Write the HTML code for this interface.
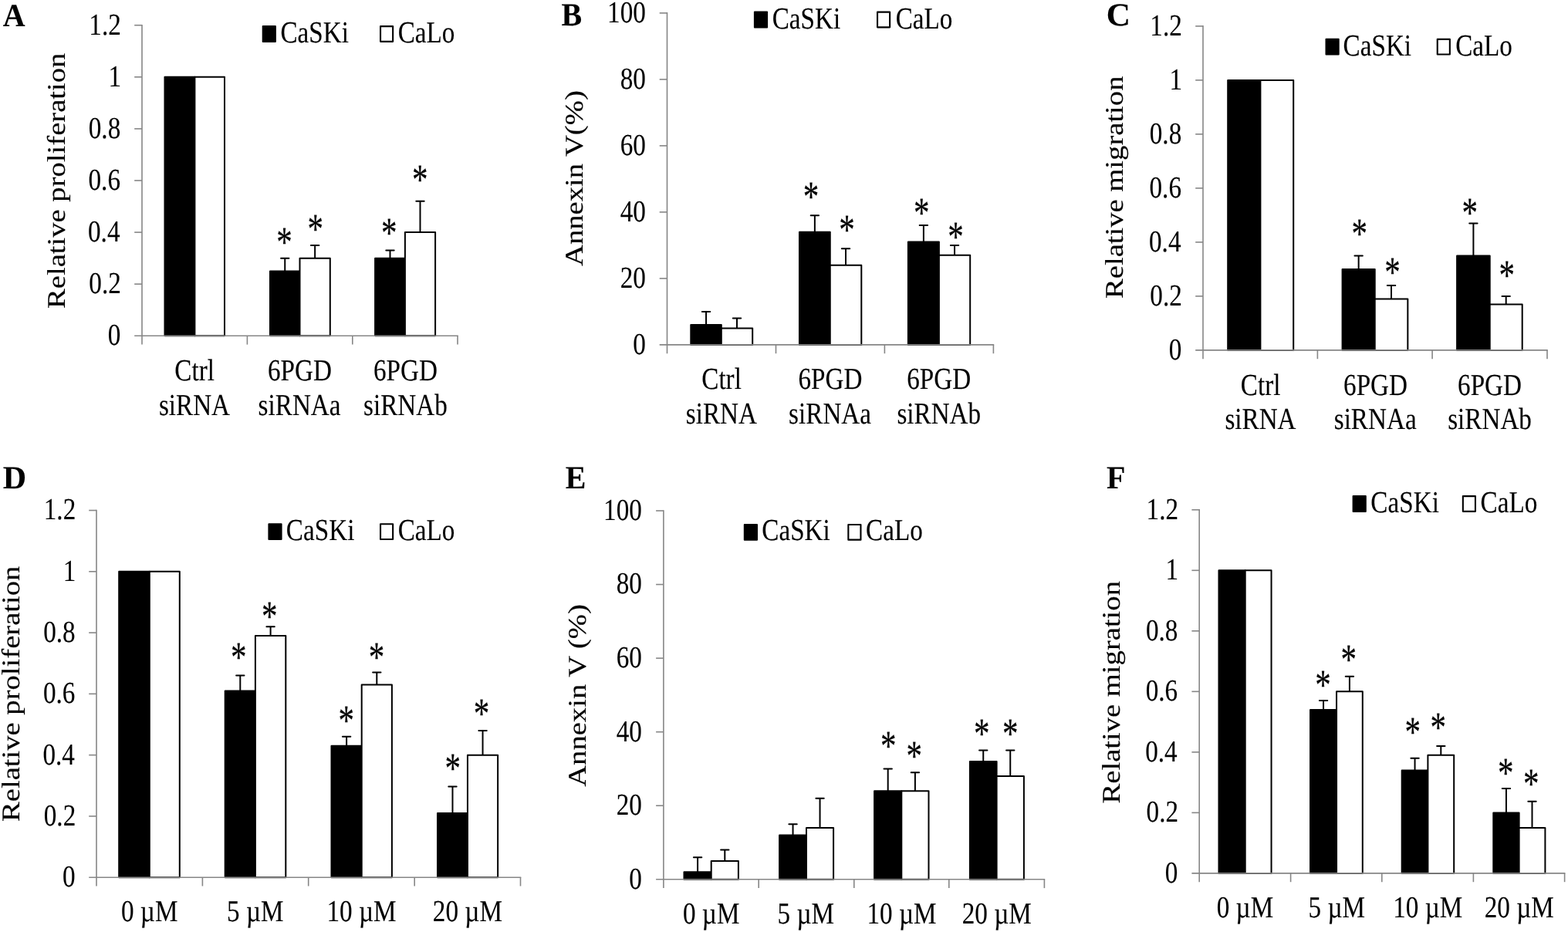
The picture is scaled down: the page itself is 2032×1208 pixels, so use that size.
<!DOCTYPE html>
<html lang="en"><head><meta charset="utf-8"><title>Figure</title>
<style>
html,body{margin:0;padding:0;background:#fff;}
body{width:2032px;height:1208px;overflow:hidden;font-family:"Liberation Serif","DejaVu Serif",serif;}
svg{display:block;}
text{white-space:pre;}
</style></head><body>
<svg width="2032" height="1208" viewBox="0 0 2032 1208" text-rendering="geometricPrecision">
<rect width="2032" height="1208" fill="#fff"/>
<rect x="213.5" y="99.8" width="38.9" height="335.5" fill="#000" stroke="#000" stroke-width="2" stroke-linejoin="round"/>
<rect x="252.4" y="99.8" width="38.6" height="335.5" fill="#fff" stroke="#000" stroke-width="2" stroke-linejoin="round"/>
<line x1="369.25" y1="334.65" x2="369.25" y2="352.43" stroke="#000" stroke-width="2" stroke-linecap="butt"/>
<line x1="364.05" y1="334.65" x2="374.45" y2="334.65" stroke="#000" stroke-width="2" stroke-linecap="round"/>
<line x1="408.15" y1="317.88" x2="408.15" y2="335.65" stroke="#000" stroke-width="2" stroke-linecap="butt"/>
<line x1="402.95" y1="317.88" x2="413.35" y2="317.88" stroke="#000" stroke-width="2" stroke-linecap="round"/>
<rect x="350" y="351.43" width="38.5" height="83.88" fill="#000" stroke="#000" stroke-width="2" stroke-linejoin="round"/>
<rect x="388.5" y="334.65" width="39.3" height="100.65" fill="#fff" stroke="#000" stroke-width="2" stroke-linejoin="round"/>
<line x1="505.5" y1="324.59" x2="505.5" y2="335.65" stroke="#000" stroke-width="2" stroke-linecap="butt"/>
<line x1="500.3" y1="324.59" x2="510.7" y2="324.59" stroke="#000" stroke-width="2" stroke-linecap="round"/>
<line x1="544.5" y1="260.84" x2="544.5" y2="302.1" stroke="#000" stroke-width="2" stroke-linecap="butt"/>
<line x1="539.3" y1="260.84" x2="549.7" y2="260.84" stroke="#000" stroke-width="2" stroke-linecap="round"/>
<rect x="486.1" y="334.65" width="38.8" height="100.65" fill="#000" stroke="#000" stroke-width="2" stroke-linejoin="round"/>
<rect x="524.9" y="301.1" width="39.2" height="134.2" fill="#fff" stroke="#000" stroke-width="2" stroke-linejoin="round"/>
<line x1="184" y1="31.9" x2="184" y2="446.6" stroke="#868686" stroke-width="1.6" stroke-linecap="butt"/>
<line x1="174.2" y1="435.3" x2="593.8" y2="435.3" stroke="#868686" stroke-width="1.6" stroke-linecap="butt"/>
<text transform="matrix(0.84,0,0,1,139.65,447.2)" font-family='"Liberation Serif","DejaVu Serif",serif' font-size="39.5" fill="#000" stroke="#000" stroke-width="0.12">0</text>
<line x1="174.2" y1="368.2" x2="184" y2="368.2" stroke="#868686" stroke-width="1.6" stroke-linecap="butt"/>
<text transform="matrix(0.84,0,0,1,115.35,380.1)" font-family='"Liberation Serif","DejaVu Serif",serif' font-size="39.5" fill="#000" stroke="#000" stroke-width="0.12">0.2</text>
<line x1="174.2" y1="301.1" x2="184" y2="301.1" stroke="#868686" stroke-width="1.6" stroke-linecap="butt"/>
<text transform="matrix(0.84,0,0,1,114.02,313)" font-family='"Liberation Serif","DejaVu Serif",serif' font-size="39.5" fill="#000" stroke="#000" stroke-width="0.12">0.4</text>
<line x1="174.2" y1="234" x2="184" y2="234" stroke="#868686" stroke-width="1.6" stroke-linecap="butt"/>
<text transform="matrix(0.84,0,0,1,114.52,245.9)" font-family='"Liberation Serif","DejaVu Serif",serif' font-size="39.5" fill="#000" stroke="#000" stroke-width="0.12">0.6</text>
<line x1="174.2" y1="166.9" x2="184" y2="166.9" stroke="#868686" stroke-width="1.6" stroke-linecap="butt"/>
<text transform="matrix(0.84,0,0,1,114.77,178.8)" font-family='"Liberation Serif","DejaVu Serif",serif' font-size="39.5" fill="#000" stroke="#000" stroke-width="0.12">0.8</text>
<line x1="174.2" y1="99.8" x2="184" y2="99.8" stroke="#868686" stroke-width="1.6" stroke-linecap="butt"/>
<text transform="matrix(0.84,0,0,1,140.4,111.7)" font-family='"Liberation Serif","DejaVu Serif",serif' font-size="39.5" fill="#000" stroke="#000" stroke-width="0.12">1</text>
<line x1="174.2" y1="32.7" x2="184" y2="32.7" stroke="#868686" stroke-width="1.6" stroke-linecap="butt"/>
<text transform="matrix(0.84,0,0,1,115.35,44.6)" font-family='"Liberation Serif","DejaVu Serif",serif' font-size="39.5" fill="#000" stroke="#000" stroke-width="0.12">1.2</text>
<line x1="320.4" y1="435.3" x2="320.4" y2="446.6" stroke="#868686" stroke-width="1.6" stroke-linecap="butt"/>
<line x1="456.8" y1="435.3" x2="456.8" y2="446.6" stroke="#868686" stroke-width="1.6" stroke-linecap="butt"/>
<line x1="593" y1="435.3" x2="593" y2="446.6" stroke="#868686" stroke-width="1.6" stroke-linecap="butt"/>
<text transform="matrix(0.84,0,0,1,226.37,493.3)" font-family='"Liberation Serif","DejaVu Serif",serif' font-size="39.5" fill="#000" stroke="#000" stroke-width="0.12">Ctrl</text>
<text transform="matrix(0.84,0,0,1,205.88,538.3)" font-family='"Liberation Serif","DejaVu Serif",serif' font-size="39.5" fill="#000" stroke="#000" stroke-width="0.12">siRNA</text>
<text transform="matrix(0.84,0,0,1,346.98,493.3)" font-family='"Liberation Serif","DejaVu Serif",serif' font-size="39.5" fill="#000" stroke="#000" stroke-width="0.12">6PGD</text>
<text transform="matrix(0.84,0,0,1,334.62,538.3)" font-family='"Liberation Serif","DejaVu Serif",serif' font-size="39.5" fill="#000" stroke="#000" stroke-width="0.12">siRNAa</text>
<text transform="matrix(0.84,0,0,1,483.98,493.3)" font-family='"Liberation Serif","DejaVu Serif",serif' font-size="39.5" fill="#000" stroke="#000" stroke-width="0.12">6PGD</text>
<text transform="matrix(0.84,0,0,1,471.08,538.3)" font-family='"Liberation Serif","DejaVu Serif",serif' font-size="39.5" fill="#000" stroke="#000" stroke-width="0.12">siRNAb</text>
<rect x="340.7" y="34.1" width="16.2" height="19.8" fill="#000" stroke="#000" stroke-width="2" stroke-linejoin="round"/>
<text transform="matrix(0.84,0,0,1,363.47,55.2)" font-family='"Liberation Serif","DejaVu Serif",serif' font-size="39.5" fill="#000" stroke="#000" stroke-width="0.12">CaSKi</text>
<rect x="493.05" y="34.15" width="16.1" height="19.7" fill="#fff" stroke="#000" stroke-width="2.1" stroke-linejoin="round"/>
<text transform="matrix(0.84,0,0,1,515.67,55.2)" font-family='"Liberation Serif","DejaVu Serif",serif' font-size="39.5" fill="#000" stroke="#000" stroke-width="0.12">CaLo</text>
<text transform="matrix(0.4099,0,0,0.5524,358.2,331.83)" font-family='"Liberation Serif","DejaVu Serif",serif' font-size="100" stroke="#000" stroke-width="0.45">*</text>
<text transform="matrix(0.4099,0,0,0.5524,398.5,314.63)" font-family='"Liberation Serif","DejaVu Serif",serif' font-size="100" stroke="#000" stroke-width="0.45">*</text>
<text transform="matrix(0.4099,0,0,0.5524,494,320.03)" font-family='"Liberation Serif","DejaVu Serif",serif' font-size="100" stroke="#000" stroke-width="0.45">*</text>
<text transform="matrix(0.4099,0,0,0.5524,534,251.23)" font-family='"Liberation Serif","DejaVu Serif",serif' font-size="100" stroke="#000" stroke-width="0.45">*</text>
<text transform="matrix(0,-1.17,1,0,83.7,399.95)" font-family='"Liberation Serif","DejaVu Serif",serif' font-size="33" fill="#000" stroke="#000" stroke-width="0.15">Relative proliferation</text>
<text transform="matrix(0.95,0,0,1,3.8,34)" font-family='"Liberation Serif","DejaVu Serif",serif' font-size="42" font-weight="bold" fill="#000" stroke="#000" stroke-width="0.12">A</text>
<line x1="915.05" y1="403.9" x2="915.05" y2="422.1" stroke="#000" stroke-width="2" stroke-linecap="butt"/>
<line x1="909.85" y1="403.9" x2="920.25" y2="403.9" stroke="#000" stroke-width="2" stroke-linecap="round"/>
<line x1="955" y1="412.5" x2="955" y2="426.4" stroke="#000" stroke-width="2" stroke-linecap="butt"/>
<line x1="949.8" y1="412.5" x2="960.2" y2="412.5" stroke="#000" stroke-width="2" stroke-linecap="round"/>
<rect x="895.3" y="421.1" width="39.5" height="25.8" fill="#000" stroke="#000" stroke-width="2" stroke-linejoin="round"/>
<rect x="934.8" y="425.4" width="40.4" height="21.5" fill="#fff" stroke="#000" stroke-width="2" stroke-linejoin="round"/>
<line x1="1055.88" y1="279.2" x2="1055.88" y2="301.7" stroke="#000" stroke-width="2" stroke-linecap="butt"/>
<line x1="1050.67" y1="279.2" x2="1061.08" y2="279.2" stroke="#000" stroke-width="2" stroke-linecap="round"/>
<line x1="1096.03" y1="322.2" x2="1096.03" y2="344.7" stroke="#000" stroke-width="2" stroke-linecap="butt"/>
<line x1="1090.83" y1="322.2" x2="1101.23" y2="322.2" stroke="#000" stroke-width="2" stroke-linecap="round"/>
<rect x="1036" y="300.7" width="39.75" height="146.2" fill="#000" stroke="#000" stroke-width="2" stroke-linejoin="round"/>
<rect x="1075.75" y="343.7" width="40.55" height="103.2" fill="#fff" stroke="#000" stroke-width="2" stroke-linejoin="round"/>
<line x1="1196.9" y1="292.1" x2="1196.9" y2="314.6" stroke="#000" stroke-width="2" stroke-linecap="butt"/>
<line x1="1191.7" y1="292.1" x2="1202.1" y2="292.1" stroke="#000" stroke-width="2" stroke-linecap="round"/>
<line x1="1237.05" y1="317.9" x2="1237.05" y2="331.8" stroke="#000" stroke-width="2" stroke-linecap="butt"/>
<line x1="1231.85" y1="317.9" x2="1242.25" y2="317.9" stroke="#000" stroke-width="2" stroke-linecap="round"/>
<rect x="1176.9" y="313.6" width="40" height="133.3" fill="#000" stroke="#000" stroke-width="2" stroke-linejoin="round"/>
<rect x="1216.9" y="330.8" width="40.3" height="116.1" fill="#fff" stroke="#000" stroke-width="2" stroke-linejoin="round"/>
<line x1="864.5" y1="16.1" x2="864.5" y2="458.2" stroke="#868686" stroke-width="1.6" stroke-linecap="butt"/>
<line x1="854.7" y1="446.9" x2="1288.2" y2="446.9" stroke="#868686" stroke-width="1.6" stroke-linecap="butt"/>
<text transform="matrix(0.84,0,0,1,820.25,458.8)" font-family='"Liberation Serif","DejaVu Serif",serif' font-size="39.5" fill="#000" stroke="#000" stroke-width="0.12">0</text>
<line x1="854.7" y1="360.9" x2="864.5" y2="360.9" stroke="#868686" stroke-width="1.6" stroke-linecap="butt"/>
<text transform="matrix(0.84,0,0,1,803.66,372.8)" font-family='"Liberation Serif","DejaVu Serif",serif' font-size="39.5" fill="#000" stroke="#000" stroke-width="0.12">20</text>
<line x1="854.7" y1="274.9" x2="864.5" y2="274.9" stroke="#868686" stroke-width="1.6" stroke-linecap="butt"/>
<text transform="matrix(0.84,0,0,1,803.66,286.8)" font-family='"Liberation Serif","DejaVu Serif",serif' font-size="39.5" fill="#000" stroke="#000" stroke-width="0.12">40</text>
<line x1="854.7" y1="188.9" x2="864.5" y2="188.9" stroke="#868686" stroke-width="1.6" stroke-linecap="butt"/>
<text transform="matrix(0.84,0,0,1,803.66,200.8)" font-family='"Liberation Serif","DejaVu Serif",serif' font-size="39.5" fill="#000" stroke="#000" stroke-width="0.12">60</text>
<line x1="854.7" y1="102.9" x2="864.5" y2="102.9" stroke="#868686" stroke-width="1.6" stroke-linecap="butt"/>
<text transform="matrix(0.84,0,0,1,803.66,114.8)" font-family='"Liberation Serif","DejaVu Serif",serif' font-size="39.5" fill="#000" stroke="#000" stroke-width="0.12">80</text>
<line x1="854.7" y1="16.9" x2="864.5" y2="16.9" stroke="#868686" stroke-width="1.6" stroke-linecap="butt"/>
<text transform="matrix(0.84,0,0,1,787.07,28.8)" font-family='"Liberation Serif","DejaVu Serif",serif' font-size="39.5" fill="#000" stroke="#000" stroke-width="0.12">100</text>
<line x1="1005.5" y1="446.9" x2="1005.5" y2="458.2" stroke="#868686" stroke-width="1.6" stroke-linecap="butt"/>
<line x1="1146.4" y1="446.9" x2="1146.4" y2="458.2" stroke="#868686" stroke-width="1.6" stroke-linecap="butt"/>
<line x1="1287.4" y1="446.9" x2="1287.4" y2="458.2" stroke="#868686" stroke-width="1.6" stroke-linecap="butt"/>
<text transform="matrix(0.84,0,0,1,909.27,504.4)" font-family='"Liberation Serif","DejaVu Serif",serif' font-size="39.5" fill="#000" stroke="#000" stroke-width="0.12">Ctrl</text>
<text transform="matrix(0.84,0,0,1,888.78,549.4)" font-family='"Liberation Serif","DejaVu Serif",serif' font-size="39.5" fill="#000" stroke="#000" stroke-width="0.12">siRNA</text>
<text transform="matrix(0.84,0,0,1,1034.48,504.4)" font-family='"Liberation Serif","DejaVu Serif",serif' font-size="39.5" fill="#000" stroke="#000" stroke-width="0.12">6PGD</text>
<text transform="matrix(0.84,0,0,1,1022.12,549.4)" font-family='"Liberation Serif","DejaVu Serif",serif' font-size="39.5" fill="#000" stroke="#000" stroke-width="0.12">siRNAa</text>
<text transform="matrix(0.84,0,0,1,1175.28,504.4)" font-family='"Liberation Serif","DejaVu Serif",serif' font-size="39.5" fill="#000" stroke="#000" stroke-width="0.12">6PGD</text>
<text transform="matrix(0.84,0,0,1,1162.38,549.4)" font-family='"Liberation Serif","DejaVu Serif",serif' font-size="39.5" fill="#000" stroke="#000" stroke-width="0.12">siRNAb</text>
<rect x="977.9" y="15.6" width="16.2" height="19.8" fill="#000" stroke="#000" stroke-width="2" stroke-linejoin="round"/>
<text transform="matrix(0.84,0,0,1,1000.67,36.8)" font-family='"Liberation Serif","DejaVu Serif",serif' font-size="39.5" fill="#000" stroke="#000" stroke-width="0.12">CaSKi</text>
<rect x="1137.05" y="15.65" width="16.1" height="19.7" fill="#fff" stroke="#000" stroke-width="2.1" stroke-linejoin="round"/>
<text transform="matrix(0.84,0,0,1,1160.67,36.8)" font-family='"Liberation Serif","DejaVu Serif",serif' font-size="39.5" fill="#000" stroke="#000" stroke-width="0.12">CaLo</text>
<text transform="matrix(0.4099,0,0,0.5524,1040.7,272.83)" font-family='"Liberation Serif","DejaVu Serif",serif' font-size="100" stroke="#000" stroke-width="0.45">*</text>
<text transform="matrix(0.4099,0,0,0.5524,1087.3,315.73)" font-family='"Liberation Serif","DejaVu Serif",serif' font-size="100" stroke="#000" stroke-width="0.45">*</text>
<text transform="matrix(0.4099,0,0,0.5524,1183.95,294.03)" font-family='"Liberation Serif","DejaVu Serif",serif' font-size="100" stroke="#000" stroke-width="0.45">*</text>
<text transform="matrix(0.4099,0,0,0.5524,1228.3,324.53)" font-family='"Liberation Serif","DejaVu Serif",serif' font-size="100" stroke="#000" stroke-width="0.45">*</text>
<text transform="matrix(0,-1.17,1,0,754.5,344.93)" font-family='"Liberation Serif","DejaVu Serif",serif' font-size="33" fill="#000" stroke="#000" stroke-width="0.15">Annexin V(%)</text>
<text transform="matrix(0.95,0,0,1,727.5,33)" font-family='"Liberation Serif","DejaVu Serif",serif' font-size="42" font-weight="bold" fill="#000" stroke="#000" stroke-width="0.12">B</text>
<rect x="1591.2" y="103.9" width="42.2" height="350" fill="#000" stroke="#000" stroke-width="2" stroke-linejoin="round"/>
<rect x="1633.4" y="103.9" width="42.8" height="350" fill="#fff" stroke="#000" stroke-width="2" stroke-linejoin="round"/>
<line x1="1760.65" y1="331.4" x2="1760.65" y2="349.9" stroke="#000" stroke-width="2" stroke-linecap="butt"/>
<line x1="1755.45" y1="331.4" x2="1765.85" y2="331.4" stroke="#000" stroke-width="2" stroke-linecap="round"/>
<line x1="1803.03" y1="369.9" x2="1803.03" y2="388.4" stroke="#000" stroke-width="2" stroke-linecap="butt"/>
<line x1="1797.83" y1="369.9" x2="1808.23" y2="369.9" stroke="#000" stroke-width="2" stroke-linecap="round"/>
<rect x="1739.6" y="348.9" width="42.1" height="105" fill="#000" stroke="#000" stroke-width="2" stroke-linejoin="round"/>
<rect x="1781.7" y="387.4" width="42.65" height="66.5" fill="#fff" stroke="#000" stroke-width="2" stroke-linejoin="round"/>
<line x1="1909.4" y1="289.4" x2="1909.4" y2="332.4" stroke="#000" stroke-width="2" stroke-linecap="butt"/>
<line x1="1904.2" y1="289.4" x2="1914.6" y2="289.4" stroke="#000" stroke-width="2" stroke-linecap="round"/>
<line x1="1951.7" y1="383.9" x2="1951.7" y2="395.4" stroke="#000" stroke-width="2" stroke-linecap="butt"/>
<line x1="1946.5" y1="383.9" x2="1956.9" y2="383.9" stroke="#000" stroke-width="2" stroke-linecap="round"/>
<rect x="1888.1" y="331.4" width="42.6" height="122.5" fill="#000" stroke="#000" stroke-width="2" stroke-linejoin="round"/>
<rect x="1930.7" y="394.4" width="42" height="59.5" fill="#fff" stroke="#000" stroke-width="2" stroke-linejoin="round"/>
<line x1="1559" y1="33.1" x2="1559" y2="465.2" stroke="#868686" stroke-width="1.6" stroke-linecap="butt"/>
<line x1="1549.2" y1="453.9" x2="2005.8" y2="453.9" stroke="#868686" stroke-width="1.6" stroke-linecap="butt"/>
<text transform="matrix(0.84,0,0,1,1514.65,465.8)" font-family='"Liberation Serif","DejaVu Serif",serif' font-size="39.5" fill="#000" stroke="#000" stroke-width="0.12">0</text>
<line x1="1549.2" y1="383.9" x2="1559" y2="383.9" stroke="#868686" stroke-width="1.6" stroke-linecap="butt"/>
<text transform="matrix(0.84,0,0,1,1490.35,395.8)" font-family='"Liberation Serif","DejaVu Serif",serif' font-size="39.5" fill="#000" stroke="#000" stroke-width="0.12">0.2</text>
<line x1="1549.2" y1="313.9" x2="1559" y2="313.9" stroke="#868686" stroke-width="1.6" stroke-linecap="butt"/>
<text transform="matrix(0.84,0,0,1,1489.02,325.8)" font-family='"Liberation Serif","DejaVu Serif",serif' font-size="39.5" fill="#000" stroke="#000" stroke-width="0.12">0.4</text>
<line x1="1549.2" y1="243.9" x2="1559" y2="243.9" stroke="#868686" stroke-width="1.6" stroke-linecap="butt"/>
<text transform="matrix(0.84,0,0,1,1489.52,255.8)" font-family='"Liberation Serif","DejaVu Serif",serif' font-size="39.5" fill="#000" stroke="#000" stroke-width="0.12">0.6</text>
<line x1="1549.2" y1="173.9" x2="1559" y2="173.9" stroke="#868686" stroke-width="1.6" stroke-linecap="butt"/>
<text transform="matrix(0.84,0,0,1,1489.77,185.8)" font-family='"Liberation Serif","DejaVu Serif",serif' font-size="39.5" fill="#000" stroke="#000" stroke-width="0.12">0.8</text>
<line x1="1549.2" y1="103.9" x2="1559" y2="103.9" stroke="#868686" stroke-width="1.6" stroke-linecap="butt"/>
<text transform="matrix(0.84,0,0,1,1515.4,115.8)" font-family='"Liberation Serif","DejaVu Serif",serif' font-size="39.5" fill="#000" stroke="#000" stroke-width="0.12">1</text>
<line x1="1549.2" y1="33.9" x2="1559" y2="33.9" stroke="#868686" stroke-width="1.6" stroke-linecap="butt"/>
<text transform="matrix(0.84,0,0,1,1490.35,45.8)" font-family='"Liberation Serif","DejaVu Serif",serif' font-size="39.5" fill="#000" stroke="#000" stroke-width="0.12">1.2</text>
<line x1="1707.4" y1="453.9" x2="1707.4" y2="465.2" stroke="#868686" stroke-width="1.6" stroke-linecap="butt"/>
<line x1="1856.1" y1="453.9" x2="1856.1" y2="465.2" stroke="#868686" stroke-width="1.6" stroke-linecap="butt"/>
<line x1="2005" y1="453.9" x2="2005" y2="465.2" stroke="#868686" stroke-width="1.6" stroke-linecap="butt"/>
<text transform="matrix(0.84,0,0,1,1607.87,511.5)" font-family='"Liberation Serif","DejaVu Serif",serif' font-size="39.5" fill="#000" stroke="#000" stroke-width="0.12">Ctrl</text>
<text transform="matrix(0.84,0,0,1,1587.38,555.7)" font-family='"Liberation Serif","DejaVu Serif",serif' font-size="39.5" fill="#000" stroke="#000" stroke-width="0.12">siRNA</text>
<text transform="matrix(0.84,0,0,1,1741.08,511.5)" font-family='"Liberation Serif","DejaVu Serif",serif' font-size="39.5" fill="#000" stroke="#000" stroke-width="0.12">6PGD</text>
<text transform="matrix(0.84,0,0,1,1728.72,555.7)" font-family='"Liberation Serif","DejaVu Serif",serif' font-size="39.5" fill="#000" stroke="#000" stroke-width="0.12">siRNAa</text>
<text transform="matrix(0.84,0,0,1,1889.08,511.5)" font-family='"Liberation Serif","DejaVu Serif",serif' font-size="39.5" fill="#000" stroke="#000" stroke-width="0.12">6PGD</text>
<text transform="matrix(0.84,0,0,1,1876.18,555.7)" font-family='"Liberation Serif","DejaVu Serif",serif' font-size="39.5" fill="#000" stroke="#000" stroke-width="0.12">siRNAb</text>
<rect x="1718.5" y="50.8" width="16.2" height="19.8" fill="#000" stroke="#000" stroke-width="2" stroke-linejoin="round"/>
<text transform="matrix(0.84,0,0,1,1740.57,72)" font-family='"Liberation Serif","DejaVu Serif",serif' font-size="39.5" fill="#000" stroke="#000" stroke-width="0.12">CaSKi</text>
<rect x="1862.75" y="50.85" width="16.1" height="19.7" fill="#fff" stroke="#000" stroke-width="2.1" stroke-linejoin="round"/>
<text transform="matrix(0.84,0,0,1,1886.17,72)" font-family='"Liberation Serif","DejaVu Serif",serif' font-size="39.5" fill="#000" stroke="#000" stroke-width="0.12">CaLo</text>
<text transform="matrix(0.4099,0,0,0.5524,1751.6,320.63)" font-family='"Liberation Serif","DejaVu Serif",serif' font-size="100" stroke="#000" stroke-width="0.45">*</text>
<text transform="matrix(0.4099,0,0,0.5524,1794.3,370.88)" font-family='"Liberation Serif","DejaVu Serif",serif' font-size="100" stroke="#000" stroke-width="0.45">*</text>
<text transform="matrix(0.4099,0,0,0.5524,1894.6,293.93)" font-family='"Liberation Serif","DejaVu Serif",serif' font-size="100" stroke="#000" stroke-width="0.45">*</text>
<text transform="matrix(0.4099,0,0,0.5524,1942.6,374.83)" font-family='"Liberation Serif","DejaVu Serif",serif' font-size="100" stroke="#000" stroke-width="0.45">*</text>
<text transform="matrix(0,-1.17,1,0,1455.2,386.98)" font-family='"Liberation Serif","DejaVu Serif",serif' font-size="33" fill="#000" stroke="#000" stroke-width="0.15">Relative migration</text>
<text transform="matrix(1.03,0,0,1,1433.65,33)" font-family='"Liberation Serif","DejaVu Serif",serif' font-size="42" font-weight="bold" fill="#000" stroke="#000" stroke-width="0.12">C</text>
<rect x="154.2" y="740.8" width="39.6" height="396.4" fill="#000" stroke="#000" stroke-width="2" stroke-linejoin="round"/>
<rect x="193.8" y="740.8" width="39" height="396.4" fill="#fff" stroke="#000" stroke-width="2" stroke-linejoin="round"/>
<line x1="311.3" y1="875.58" x2="311.3" y2="896.4" stroke="#000" stroke-width="2" stroke-linecap="butt"/>
<line x1="306.1" y1="875.58" x2="316.5" y2="875.58" stroke="#000" stroke-width="2" stroke-linecap="round"/>
<line x1="350.6" y1="812.15" x2="350.6" y2="825.04" stroke="#000" stroke-width="2" stroke-linecap="butt"/>
<line x1="345.4" y1="812.15" x2="355.8" y2="812.15" stroke="#000" stroke-width="2" stroke-linecap="round"/>
<rect x="291.7" y="895.4" width="39.2" height="241.8" fill="#000" stroke="#000" stroke-width="2" stroke-linejoin="round"/>
<rect x="330.9" y="824.04" width="39.4" height="313.16" fill="#fff" stroke="#000" stroke-width="2" stroke-linejoin="round"/>
<line x1="449.1" y1="954.86" x2="449.1" y2="967.75" stroke="#000" stroke-width="2" stroke-linecap="butt"/>
<line x1="443.9" y1="954.86" x2="454.3" y2="954.86" stroke="#000" stroke-width="2" stroke-linecap="round"/>
<line x1="488.3" y1="871.61" x2="488.3" y2="888.47" stroke="#000" stroke-width="2" stroke-linecap="butt"/>
<line x1="483.1" y1="871.61" x2="493.5" y2="871.61" stroke="#000" stroke-width="2" stroke-linecap="round"/>
<rect x="429.5" y="966.75" width="39.2" height="170.45" fill="#000" stroke="#000" stroke-width="2" stroke-linejoin="round"/>
<rect x="468.7" y="887.47" width="39.2" height="249.73" fill="#fff" stroke="#000" stroke-width="2" stroke-linejoin="round"/>
<line x1="586.48" y1="1019.47" x2="586.48" y2="1054.96" stroke="#000" stroke-width="2" stroke-linecap="butt"/>
<line x1="581.27" y1="1019.47" x2="591.68" y2="1019.47" stroke="#000" stroke-width="2" stroke-linecap="round"/>
<line x1="625.55" y1="946.93" x2="625.55" y2="979.64" stroke="#000" stroke-width="2" stroke-linecap="butt"/>
<line x1="620.35" y1="946.93" x2="630.75" y2="946.93" stroke="#000" stroke-width="2" stroke-linecap="round"/>
<rect x="567" y="1053.96" width="38.95" height="83.24" fill="#000" stroke="#000" stroke-width="2" stroke-linejoin="round"/>
<rect x="605.95" y="978.64" width="39.2" height="158.56" fill="#fff" stroke="#000" stroke-width="2" stroke-linejoin="round"/>
<line x1="125" y1="660.72" x2="125" y2="1148.5" stroke="#868686" stroke-width="1.6" stroke-linecap="butt"/>
<line x1="115.2" y1="1137.2" x2="675.3" y2="1137.2" stroke="#868686" stroke-width="1.6" stroke-linecap="butt"/>
<text transform="matrix(0.84,0,0,1,81.05,1149.1)" font-family='"Liberation Serif","DejaVu Serif",serif' font-size="39.5" fill="#000" stroke="#000" stroke-width="0.12">0</text>
<line x1="115.2" y1="1057.92" x2="125" y2="1057.92" stroke="#868686" stroke-width="1.6" stroke-linecap="butt"/>
<text transform="matrix(0.84,0,0,1,56.75,1069.82)" font-family='"Liberation Serif","DejaVu Serif",serif' font-size="39.5" fill="#000" stroke="#000" stroke-width="0.12">0.2</text>
<line x1="115.2" y1="978.64" x2="125" y2="978.64" stroke="#868686" stroke-width="1.6" stroke-linecap="butt"/>
<text transform="matrix(0.84,0,0,1,55.42,990.54)" font-family='"Liberation Serif","DejaVu Serif",serif' font-size="39.5" fill="#000" stroke="#000" stroke-width="0.12">0.4</text>
<line x1="115.2" y1="899.36" x2="125" y2="899.36" stroke="#868686" stroke-width="1.6" stroke-linecap="butt"/>
<text transform="matrix(0.84,0,0,1,55.92,911.26)" font-family='"Liberation Serif","DejaVu Serif",serif' font-size="39.5" fill="#000" stroke="#000" stroke-width="0.12">0.6</text>
<line x1="115.2" y1="820.08" x2="125" y2="820.08" stroke="#868686" stroke-width="1.6" stroke-linecap="butt"/>
<text transform="matrix(0.84,0,0,1,56.17,831.98)" font-family='"Liberation Serif","DejaVu Serif",serif' font-size="39.5" fill="#000" stroke="#000" stroke-width="0.12">0.8</text>
<line x1="115.2" y1="740.8" x2="125" y2="740.8" stroke="#868686" stroke-width="1.6" stroke-linecap="butt"/>
<text transform="matrix(0.84,0,0,1,81.8,752.7)" font-family='"Liberation Serif","DejaVu Serif",serif' font-size="39.5" fill="#000" stroke="#000" stroke-width="0.12">1</text>
<line x1="115.2" y1="661.52" x2="125" y2="661.52" stroke="#868686" stroke-width="1.6" stroke-linecap="butt"/>
<text transform="matrix(0.84,0,0,1,56.75,673.42)" font-family='"Liberation Serif","DejaVu Serif",serif' font-size="39.5" fill="#000" stroke="#000" stroke-width="0.12">1.2</text>
<line x1="262.4" y1="1137.2" x2="262.4" y2="1148.5" stroke="#868686" stroke-width="1.6" stroke-linecap="butt"/>
<line x1="399.7" y1="1137.2" x2="399.7" y2="1148.5" stroke="#868686" stroke-width="1.6" stroke-linecap="butt"/>
<line x1="537.2" y1="1137.2" x2="537.2" y2="1148.5" stroke="#868686" stroke-width="1.6" stroke-linecap="butt"/>
<line x1="674.5" y1="1137.2" x2="674.5" y2="1148.5" stroke="#868686" stroke-width="1.6" stroke-linecap="butt"/>
<text transform="matrix(0.84,0,0,1,156.93,1194.1)" font-family='"Liberation Serif","DejaVu Serif",serif' font-size="39.5" fill="#000" stroke="#000" stroke-width="0.12">0 µM</text>
<text transform="matrix(0.84,0,0,1,294.1,1194.1)" font-family='"Liberation Serif","DejaVu Serif",serif' font-size="39.5" fill="#000" stroke="#000" stroke-width="0.12">5 µM</text>
<text transform="matrix(0.84,0,0,1,423.4,1194.1)" font-family='"Liberation Serif","DejaVu Serif",serif' font-size="39.5" fill="#000" stroke="#000" stroke-width="0.12">10 µM</text>
<text transform="matrix(0.84,0,0,1,560.85,1194.1)" font-family='"Liberation Serif","DejaVu Serif",serif' font-size="39.5" fill="#000" stroke="#000" stroke-width="0.12">20 µM</text>
<rect x="348.4" y="679.2" width="16.2" height="19.8" fill="#000" stroke="#000" stroke-width="2" stroke-linejoin="round"/>
<text transform="matrix(0.84,0,0,1,370.87,700.4)" font-family='"Liberation Serif","DejaVu Serif",serif' font-size="39.5" fill="#000" stroke="#000" stroke-width="0.12">CaSKi</text>
<rect x="493.05" y="679.25" width="16.1" height="19.7" fill="#fff" stroke="#000" stroke-width="2.1" stroke-linejoin="round"/>
<text transform="matrix(0.84,0,0,1,515.67,700.4)" font-family='"Liberation Serif","DejaVu Serif",serif' font-size="39.5" fill="#000" stroke="#000" stroke-width="0.12">CaLo</text>
<text transform="matrix(0.4099,0,0,0.5524,298.9,869.63)" font-family='"Liberation Serif","DejaVu Serif",serif' font-size="100" stroke="#000" stroke-width="0.45">*</text>
<text transform="matrix(0.4099,0,0,0.5524,339,817.13)" font-family='"Liberation Serif","DejaVu Serif",serif' font-size="100" stroke="#000" stroke-width="0.45">*</text>
<text transform="matrix(0.4099,0,0,0.5524,438.6,952.23)" font-family='"Liberation Serif","DejaVu Serif",serif' font-size="100" stroke="#000" stroke-width="0.45">*</text>
<text transform="matrix(0.4099,0,0,0.5524,477.8,869.83)" font-family='"Liberation Serif","DejaVu Serif",serif' font-size="100" stroke="#000" stroke-width="0.45">*</text>
<text transform="matrix(0.4099,0,0,0.5524,576.4,1013.63)" font-family='"Liberation Serif","DejaVu Serif",serif' font-size="100" stroke="#000" stroke-width="0.45">*</text>
<text transform="matrix(0.4099,0,0,0.5524,613.7,943.23)" font-family='"Liberation Serif","DejaVu Serif",serif' font-size="100" stroke="#000" stroke-width="0.45">*</text>
<text transform="matrix(0,-1.17,1,0,25.1,1064.95)" font-family='"Liberation Serif","DejaVu Serif",serif' font-size="33" fill="#000" stroke="#000" stroke-width="0.15">Relative proliferation</text>
<text transform="matrix(1,0,0,1,3.76,632.8)" font-family='"Liberation Serif","DejaVu Serif",serif' font-size="42" font-weight="bold" fill="#000" stroke="#000" stroke-width="0.12">D</text>
<line x1="904.1" y1="1111.13" x2="904.1" y2="1131.24" stroke="#000" stroke-width="2" stroke-linecap="butt"/>
<line x1="898.9" y1="1111.13" x2="909.3" y2="1111.13" stroke="#000" stroke-width="2" stroke-linecap="round"/>
<line x1="939.3" y1="1101.58" x2="939.3" y2="1116.91" stroke="#000" stroke-width="2" stroke-linecap="butt"/>
<line x1="934.1" y1="1101.58" x2="944.5" y2="1101.58" stroke="#000" stroke-width="2" stroke-linecap="round"/>
<rect x="886.5" y="1130.24" width="35.2" height="9.56" fill="#000" stroke="#000" stroke-width="2" stroke-linejoin="round"/>
<rect x="921.7" y="1115.91" width="35.2" height="23.89" fill="#fff" stroke="#000" stroke-width="2" stroke-linejoin="round"/>
<line x1="1027.55" y1="1068.13" x2="1027.55" y2="1083.46" stroke="#000" stroke-width="2" stroke-linecap="butt"/>
<line x1="1022.35" y1="1068.13" x2="1032.75" y2="1068.13" stroke="#000" stroke-width="2" stroke-linecap="round"/>
<line x1="1062.55" y1="1034.68" x2="1062.55" y2="1073.91" stroke="#000" stroke-width="2" stroke-linecap="butt"/>
<line x1="1057.35" y1="1034.68" x2="1067.75" y2="1034.68" stroke="#000" stroke-width="2" stroke-linecap="round"/>
<rect x="1010.1" y="1082.46" width="34.9" height="57.34" fill="#000" stroke="#000" stroke-width="2" stroke-linejoin="round"/>
<rect x="1045" y="1072.91" width="35.1" height="66.89" fill="#fff" stroke="#000" stroke-width="2" stroke-linejoin="round"/>
<line x1="1150.7" y1="996.46" x2="1150.7" y2="1026.13" stroke="#000" stroke-width="2" stroke-linecap="butt"/>
<line x1="1145.5" y1="996.46" x2="1155.9" y2="996.46" stroke="#000" stroke-width="2" stroke-linecap="round"/>
<line x1="1185.9" y1="1001.24" x2="1185.9" y2="1026.13" stroke="#000" stroke-width="2" stroke-linecap="butt"/>
<line x1="1180.7" y1="1001.24" x2="1191.1" y2="1001.24" stroke="#000" stroke-width="2" stroke-linecap="round"/>
<rect x="1133.1" y="1025.13" width="35.2" height="114.67" fill="#000" stroke="#000" stroke-width="2" stroke-linejoin="round"/>
<rect x="1168.3" y="1025.13" width="35.2" height="114.67" fill="#fff" stroke="#000" stroke-width="2" stroke-linejoin="round"/>
<line x1="1274.25" y1="972.57" x2="1274.25" y2="987.9" stroke="#000" stroke-width="2" stroke-linecap="butt"/>
<line x1="1269.05" y1="972.57" x2="1279.45" y2="972.57" stroke="#000" stroke-width="2" stroke-linecap="round"/>
<line x1="1309.25" y1="972.57" x2="1309.25" y2="1007.02" stroke="#000" stroke-width="2" stroke-linecap="butt"/>
<line x1="1304.05" y1="972.57" x2="1314.45" y2="972.57" stroke="#000" stroke-width="2" stroke-linecap="round"/>
<rect x="1256.9" y="986.9" width="34.7" height="152.9" fill="#000" stroke="#000" stroke-width="2" stroke-linejoin="round"/>
<rect x="1291.6" y="1006.02" width="35.3" height="133.78" fill="#fff" stroke="#000" stroke-width="2" stroke-linejoin="round"/>
<line x1="859.9" y1="661.2" x2="859.9" y2="1151.1" stroke="#868686" stroke-width="1.6" stroke-linecap="butt"/>
<line x1="850.1" y1="1139.8" x2="1354.2" y2="1139.8" stroke="#868686" stroke-width="1.6" stroke-linecap="butt"/>
<text transform="matrix(0.84,0,0,1,815.25,1151.7)" font-family='"Liberation Serif","DejaVu Serif",serif' font-size="39.5" fill="#000" stroke="#000" stroke-width="0.12">0</text>
<line x1="850.1" y1="1044.24" x2="859.9" y2="1044.24" stroke="#868686" stroke-width="1.6" stroke-linecap="butt"/>
<text transform="matrix(0.84,0,0,1,798.66,1056.14)" font-family='"Liberation Serif","DejaVu Serif",serif' font-size="39.5" fill="#000" stroke="#000" stroke-width="0.12">20</text>
<line x1="850.1" y1="948.68" x2="859.9" y2="948.68" stroke="#868686" stroke-width="1.6" stroke-linecap="butt"/>
<text transform="matrix(0.84,0,0,1,798.66,960.58)" font-family='"Liberation Serif","DejaVu Serif",serif' font-size="39.5" fill="#000" stroke="#000" stroke-width="0.12">40</text>
<line x1="850.1" y1="853.12" x2="859.9" y2="853.12" stroke="#868686" stroke-width="1.6" stroke-linecap="butt"/>
<text transform="matrix(0.84,0,0,1,798.66,865.02)" font-family='"Liberation Serif","DejaVu Serif",serif' font-size="39.5" fill="#000" stroke="#000" stroke-width="0.12">60</text>
<line x1="850.1" y1="757.56" x2="859.9" y2="757.56" stroke="#868686" stroke-width="1.6" stroke-linecap="butt"/>
<text transform="matrix(0.84,0,0,1,798.66,769.46)" font-family='"Liberation Serif","DejaVu Serif",serif' font-size="39.5" fill="#000" stroke="#000" stroke-width="0.12">80</text>
<line x1="850.1" y1="662" x2="859.9" y2="662" stroke="#868686" stroke-width="1.6" stroke-linecap="butt"/>
<text transform="matrix(0.84,0,0,1,782.07,673.9)" font-family='"Liberation Serif","DejaVu Serif",serif' font-size="39.5" fill="#000" stroke="#000" stroke-width="0.12">100</text>
<line x1="983.2" y1="1139.8" x2="983.2" y2="1151.1" stroke="#868686" stroke-width="1.6" stroke-linecap="butt"/>
<line x1="1106.8" y1="1139.8" x2="1106.8" y2="1151.1" stroke="#868686" stroke-width="1.6" stroke-linecap="butt"/>
<line x1="1229.8" y1="1139.8" x2="1229.8" y2="1151.1" stroke="#868686" stroke-width="1.6" stroke-linecap="butt"/>
<line x1="1353.4" y1="1139.8" x2="1353.4" y2="1151.1" stroke="#868686" stroke-width="1.6" stroke-linecap="butt"/>
<text transform="matrix(0.84,0,0,1,884.93,1196.5)" font-family='"Liberation Serif","DejaVu Serif",serif' font-size="39.5" fill="#000" stroke="#000" stroke-width="0.12">0 µM</text>
<text transform="matrix(0.84,0,0,1,1007.6,1196.5)" font-family='"Liberation Serif","DejaVu Serif",serif' font-size="39.5" fill="#000" stroke="#000" stroke-width="0.12">5 µM</text>
<text transform="matrix(0.84,0,0,1,1123.5,1196.5)" font-family='"Liberation Serif","DejaVu Serif",serif' font-size="39.5" fill="#000" stroke="#000" stroke-width="0.12">10 µM</text>
<text transform="matrix(0.84,0,0,1,1246.75,1196.5)" font-family='"Liberation Serif","DejaVu Serif",serif' font-size="39.5" fill="#000" stroke="#000" stroke-width="0.12">20 µM</text>
<rect x="964.8" y="679.9" width="16.2" height="19.8" fill="#000" stroke="#000" stroke-width="2" stroke-linejoin="round"/>
<text transform="matrix(0.84,0,0,1,987.27,700.4)" font-family='"Liberation Serif","DejaVu Serif",serif' font-size="39.5" fill="#000" stroke="#000" stroke-width="0.12">CaSKi</text>
<rect x="1099.35" y="679.95" width="16.1" height="19.7" fill="#fff" stroke="#000" stroke-width="2.1" stroke-linejoin="round"/>
<text transform="matrix(0.84,0,0,1,1122.07,700.4)" font-family='"Liberation Serif","DejaVu Serif",serif' font-size="39.5" fill="#000" stroke="#000" stroke-width="0.12">CaLo</text>
<text transform="matrix(0.4099,0,0,0.5524,1140.9,985.33)" font-family='"Liberation Serif","DejaVu Serif",serif' font-size="100" stroke="#000" stroke-width="0.45">*</text>
<text transform="matrix(0.4099,0,0,0.5524,1174.4,997.93)" font-family='"Liberation Serif","DejaVu Serif",serif' font-size="100" stroke="#000" stroke-width="0.45">*</text>
<text transform="matrix(0.4099,0,0,0.5524,1262.1,968.83)" font-family='"Liberation Serif","DejaVu Serif",serif' font-size="100" stroke="#000" stroke-width="0.45">*</text>
<text transform="matrix(0.4099,0,0,0.5524,1299.1,968.83)" font-family='"Liberation Serif","DejaVu Serif",serif' font-size="100" stroke="#000" stroke-width="0.45">*</text>
<text transform="matrix(0,-1.17,1,0,758.5,1019.76)" font-family='"Liberation Serif","DejaVu Serif",serif' font-size="33" fill="#000" stroke="#000" stroke-width="0.15">Annexin V (%)</text>
<text transform="matrix(0.95,0,0,1,732.8,632.8)" font-family='"Liberation Serif","DejaVu Serif",serif' font-size="42" font-weight="bold" fill="#000" stroke="#000" stroke-width="0.12">E</text>
<rect x="1579.5" y="739.3" width="34.2" height="392.6" fill="#000" stroke="#000" stroke-width="2" stroke-linejoin="round"/>
<rect x="1613.7" y="739.3" width="33.85" height="392.6" fill="#fff" stroke="#000" stroke-width="2" stroke-linejoin="round"/>
<line x1="1715.05" y1="908.12" x2="1715.05" y2="920.9" stroke="#000" stroke-width="2" stroke-linecap="butt"/>
<line x1="1709.85" y1="908.12" x2="1720.25" y2="908.12" stroke="#000" stroke-width="2" stroke-linecap="round"/>
<line x1="1748.92" y1="876.71" x2="1748.92" y2="897.34" stroke="#000" stroke-width="2" stroke-linecap="butt"/>
<line x1="1743.72" y1="876.71" x2="1754.12" y2="876.71" stroke="#000" stroke-width="2" stroke-linecap="round"/>
<rect x="1698.05" y="919.9" width="34" height="212" fill="#000" stroke="#000" stroke-width="2" stroke-linejoin="round"/>
<rect x="1732.05" y="896.34" width="33.75" height="235.56" fill="#fff" stroke="#000" stroke-width="2" stroke-linejoin="round"/>
<line x1="1833.55" y1="982.71" x2="1833.55" y2="999.42" stroke="#000" stroke-width="2" stroke-linecap="butt"/>
<line x1="1828.35" y1="982.71" x2="1838.75" y2="982.71" stroke="#000" stroke-width="2" stroke-linecap="round"/>
<line x1="1867.3" y1="967.01" x2="1867.3" y2="979.79" stroke="#000" stroke-width="2" stroke-linecap="butt"/>
<line x1="1862.1" y1="967.01" x2="1872.5" y2="967.01" stroke="#000" stroke-width="2" stroke-linecap="round"/>
<rect x="1816.7" y="998.42" width="33.7" height="133.48" fill="#000" stroke="#000" stroke-width="2" stroke-linejoin="round"/>
<rect x="1850.4" y="978.79" width="33.8" height="153.11" fill="#fff" stroke="#000" stroke-width="2" stroke-linejoin="round"/>
<line x1="1951.95" y1="1021.97" x2="1951.95" y2="1054.38" stroke="#000" stroke-width="2" stroke-linecap="butt"/>
<line x1="1946.75" y1="1021.97" x2="1957.15" y2="1021.97" stroke="#000" stroke-width="2" stroke-linecap="round"/>
<line x1="1985.5" y1="1038.85" x2="1985.5" y2="1074.01" stroke="#000" stroke-width="2" stroke-linecap="butt"/>
<line x1="1980.3" y1="1038.85" x2="1990.7" y2="1038.85" stroke="#000" stroke-width="2" stroke-linecap="round"/>
<rect x="1935.3" y="1053.38" width="33.3" height="78.52" fill="#000" stroke="#000" stroke-width="2" stroke-linejoin="round"/>
<rect x="1968.6" y="1073.01" width="33.8" height="58.89" fill="#fff" stroke="#000" stroke-width="2" stroke-linejoin="round"/>
<line x1="1554.2" y1="659.98" x2="1554.2" y2="1143.2" stroke="#868686" stroke-width="1.6" stroke-linecap="butt"/>
<line x1="1544.4" y1="1131.9" x2="2028.4" y2="1131.9" stroke="#868686" stroke-width="1.6" stroke-linecap="butt"/>
<text transform="matrix(0.84,0,0,1,1509.85,1143.8)" font-family='"Liberation Serif","DejaVu Serif",serif' font-size="39.5" fill="#000" stroke="#000" stroke-width="0.12">0</text>
<line x1="1544.4" y1="1053.38" x2="1554.2" y2="1053.38" stroke="#868686" stroke-width="1.6" stroke-linecap="butt"/>
<text transform="matrix(0.84,0,0,1,1485.55,1065.28)" font-family='"Liberation Serif","DejaVu Serif",serif' font-size="39.5" fill="#000" stroke="#000" stroke-width="0.12">0.2</text>
<line x1="1544.4" y1="974.86" x2="1554.2" y2="974.86" stroke="#868686" stroke-width="1.6" stroke-linecap="butt"/>
<text transform="matrix(0.84,0,0,1,1484.22,986.76)" font-family='"Liberation Serif","DejaVu Serif",serif' font-size="39.5" fill="#000" stroke="#000" stroke-width="0.12">0.4</text>
<line x1="1544.4" y1="896.34" x2="1554.2" y2="896.34" stroke="#868686" stroke-width="1.6" stroke-linecap="butt"/>
<text transform="matrix(0.84,0,0,1,1484.72,908.24)" font-family='"Liberation Serif","DejaVu Serif",serif' font-size="39.5" fill="#000" stroke="#000" stroke-width="0.12">0.6</text>
<line x1="1544.4" y1="817.82" x2="1554.2" y2="817.82" stroke="#868686" stroke-width="1.6" stroke-linecap="butt"/>
<text transform="matrix(0.84,0,0,1,1484.97,829.72)" font-family='"Liberation Serif","DejaVu Serif",serif' font-size="39.5" fill="#000" stroke="#000" stroke-width="0.12">0.8</text>
<line x1="1544.4" y1="739.3" x2="1554.2" y2="739.3" stroke="#868686" stroke-width="1.6" stroke-linecap="butt"/>
<text transform="matrix(0.84,0,0,1,1510.6,751.2)" font-family='"Liberation Serif","DejaVu Serif",serif' font-size="39.5" fill="#000" stroke="#000" stroke-width="0.12">1</text>
<line x1="1544.4" y1="660.78" x2="1554.2" y2="660.78" stroke="#868686" stroke-width="1.6" stroke-linecap="butt"/>
<text transform="matrix(0.84,0,0,1,1485.55,672.68)" font-family='"Liberation Serif","DejaVu Serif",serif' font-size="39.5" fill="#000" stroke="#000" stroke-width="0.12">1.2</text>
<line x1="1672.6" y1="1131.9" x2="1672.6" y2="1143.2" stroke="#868686" stroke-width="1.6" stroke-linecap="butt"/>
<line x1="1790.8" y1="1131.9" x2="1790.8" y2="1143.2" stroke="#868686" stroke-width="1.6" stroke-linecap="butt"/>
<line x1="1909.4" y1="1131.9" x2="1909.4" y2="1143.2" stroke="#868686" stroke-width="1.6" stroke-linecap="butt"/>
<line x1="2027.6" y1="1131.9" x2="2027.6" y2="1143.2" stroke="#868686" stroke-width="1.6" stroke-linecap="butt"/>
<text transform="matrix(0.84,0,0,1,1576.63,1188.5)" font-family='"Liberation Serif","DejaVu Serif",serif' font-size="39.5" fill="#000" stroke="#000" stroke-width="0.12">0 µM</text>
<text transform="matrix(0.84,0,0,1,1695.5,1188.5)" font-family='"Liberation Serif","DejaVu Serif",serif' font-size="39.5" fill="#000" stroke="#000" stroke-width="0.12">5 µM</text>
<text transform="matrix(0.84,0,0,1,1805.2,1188.5)" font-family='"Liberation Serif","DejaVu Serif",serif' font-size="39.5" fill="#000" stroke="#000" stroke-width="0.12">10 µM</text>
<text transform="matrix(0.84,0,0,1,1923.75,1188.5)" font-family='"Liberation Serif","DejaVu Serif",serif' font-size="39.5" fill="#000" stroke="#000" stroke-width="0.12">20 µM</text>
<rect x="1753.6" y="643.1" width="16.2" height="19.8" fill="#000" stroke="#000" stroke-width="2" stroke-linejoin="round"/>
<text transform="matrix(0.84,0,0,1,1776.37,664.3)" font-family='"Liberation Serif","DejaVu Serif",serif' font-size="39.5" fill="#000" stroke="#000" stroke-width="0.12">CaSKi</text>
<rect x="1895.85" y="643.15" width="16.1" height="19.7" fill="#fff" stroke="#000" stroke-width="2.1" stroke-linejoin="round"/>
<text transform="matrix(0.84,0,0,1,1918.57,664.3)" font-family='"Liberation Serif","DejaVu Serif",serif' font-size="39.5" fill="#000" stroke="#000" stroke-width="0.12">CaLo</text>
<text transform="matrix(0.4099,0,0,0.5524,1704.2,905.53)" font-family='"Liberation Serif","DejaVu Serif",serif' font-size="100" stroke="#000" stroke-width="0.45">*</text>
<text transform="matrix(0.4099,0,0,0.5524,1737.45,873.13)" font-family='"Liberation Serif","DejaVu Serif",serif' font-size="100" stroke="#000" stroke-width="0.45">*</text>
<text transform="matrix(0.4099,0,0,0.5524,1820.6,966.58)" font-family='"Liberation Serif","DejaVu Serif",serif' font-size="100" stroke="#000" stroke-width="0.45">*</text>
<text transform="matrix(0.4099,0,0,0.5524,1853.55,960.93)" font-family='"Liberation Serif","DejaVu Serif",serif' font-size="100" stroke="#000" stroke-width="0.45">*</text>
<text transform="matrix(0.4099,0,0,0.5524,1940.9,1020.03)" font-family='"Liberation Serif","DejaVu Serif",serif' font-size="100" stroke="#000" stroke-width="0.45">*</text>
<text transform="matrix(0.4099,0,0,0.5524,1973.9,1034.13)" font-family='"Liberation Serif","DejaVu Serif",serif' font-size="100" stroke="#000" stroke-width="0.45">*</text>
<text transform="matrix(0,-1.17,1,0,1450.7,1041.48)" font-family='"Liberation Serif","DejaVu Serif",serif' font-size="33" fill="#000" stroke="#000" stroke-width="0.15">Relative migration</text>
<text transform="matrix(0.95,0,0,1,1434,632.8)" font-family='"Liberation Serif","DejaVu Serif",serif' font-size="42" font-weight="bold" fill="#000" stroke="#000" stroke-width="0.12">F</text>
</svg>
</body></html>
